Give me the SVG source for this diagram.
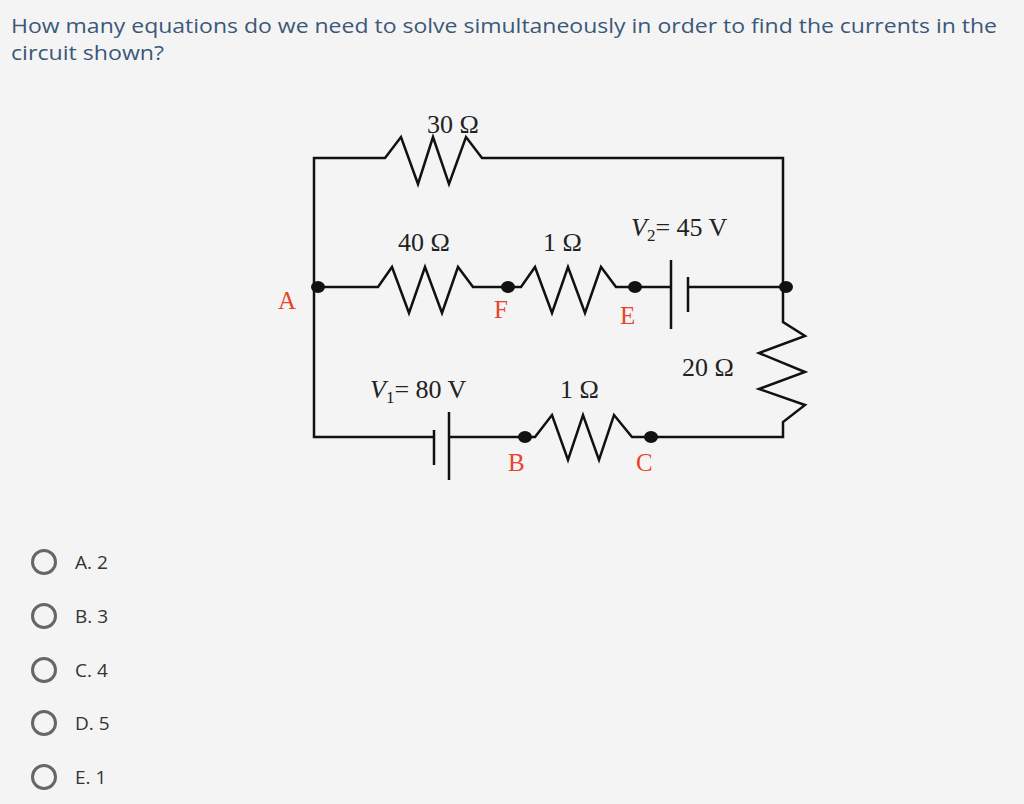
<svg xmlns="http://www.w3.org/2000/svg" width="1024" height="804" viewBox="0 0 1024 804">
<style>
.q{font-family:"Open Sans","Liberation Sans",sans-serif;font-size:20px;fill:#3b5878}
.opt{font-family:"Open Sans","Liberation Sans",sans-serif;font-size:19px;fill:#333}
.w{fill:none;stroke:#111;stroke-width:2.5;stroke-linejoin:miter}
.lbl{font-family:"Liberation Serif",serif;font-size:26px;fill:#222}
.red{font-family:"Liberation Serif",serif;font-size:25px;fill:#e8442c}
.rad{fill:none;stroke:#666;stroke-width:3}
</style>
<rect width="1024" height="804" fill="#f4f4f4"/>
<text class="q" x="11" y="33" textLength="986" lengthAdjust="spacingAndGlyphs">How many equations do we need to solve simultaneously in order to  find the currents in the</text>
<text class="q" x="11" y="60" textLength="153" lengthAdjust="spacingAndGlyphs">circuit shown?</text>
<g id="connectors">
<path class="w" d="M314,287 V158 H385 L401,137 L418,184 L433,137 L449,184 L466,137 L482,158 H783 V322 L805,336 L759,353 L805,372 L759,389 L805,405 L783,422 V437 H651"/>
<path class="w" d="M314,287 V437 H434"/>
<path class="w" d="M449,437 H535 L552,415 L568,460 L583,415 L599,460 L614,415 L632,437 H651"/>
<path class="w" d="M314,287 H378 L392,267 L409,313 L425,267 L442,313 L458,267 L473,287 H521 L535,267 L552,313 L568,267 L585,313 L601,267 L616,287 H671"/>
<path class="w" d="M688,287 H783"/>
<path class="w" d="M671,260 V329 M688,277 V312"/>
<path class="w" d="M449,412 V480 M434,430 V465"/>
</g>
<g id="nodes" fill="#111">
<g id="nA"><ellipse cx="318" cy="287" rx="7" ry="6"/></g>
<g id="nF"><ellipse cx="508" cy="287" rx="7" ry="6"/></g>
<g id="nE"><ellipse cx="635" cy="287" rx="7" ry="6"/></g>
<g id="nR"><ellipse cx="786" cy="287" rx="7" ry="6"/></g>
<g id="nB"><ellipse cx="525" cy="437" rx="7" ry="6"/></g>
<g id="nC"><ellipse cx="651" cy="437" rx="7" ry="6"/></g>
</g>
<g id="labels">
<text class="lbl" x="427" y="133">30 Ω</text>
<text class="lbl" x="398" y="251">40 Ω</text>
<text class="lbl" x="543" y="251">1 Ω</text>
<text class="lbl" x="631" y="236"><tspan font-style="italic">V</tspan><tspan font-size="17" dy="5">2</tspan><tspan dy="-5">= 45 V</tspan></text>
<text class="lbl" x="682" y="376">20 Ω</text>
<text class="lbl" x="370" y="398"><tspan font-style="italic">V</tspan><tspan font-size="17" dy="5">1</tspan><tspan dy="-5">= 80 V</tspan></text>
<text class="lbl" x="560" y="398">1 Ω</text>
<text class="red" x="278" y="309">A</text>
<text class="red" x="494" y="318">F</text>
<text class="red" x="620" y="324">E</text>
<text class="red" x="508" y="471">B</text>
<text class="red" x="636" y="471">C</text>
</g>
<g id="options">
<circle class="rad" cx="44" cy="562" r="11.5"/><text class="opt" x="75" y="569">A. 2</text>
<circle class="rad" cx="44" cy="616" r="11.5"/><text class="opt" x="75" y="623">B. 3</text>
<circle class="rad" cx="44" cy="670" r="11.5"/><text class="opt" x="75" y="677">C. 4</text>
<circle class="rad" cx="44" cy="723" r="11.5"/><text class="opt" x="75" y="730">D. 5</text>
<circle class="rad" cx="44" cy="777" r="11.5"/><text class="opt" x="75" y="784">E. 1</text>
</g>
</svg>
